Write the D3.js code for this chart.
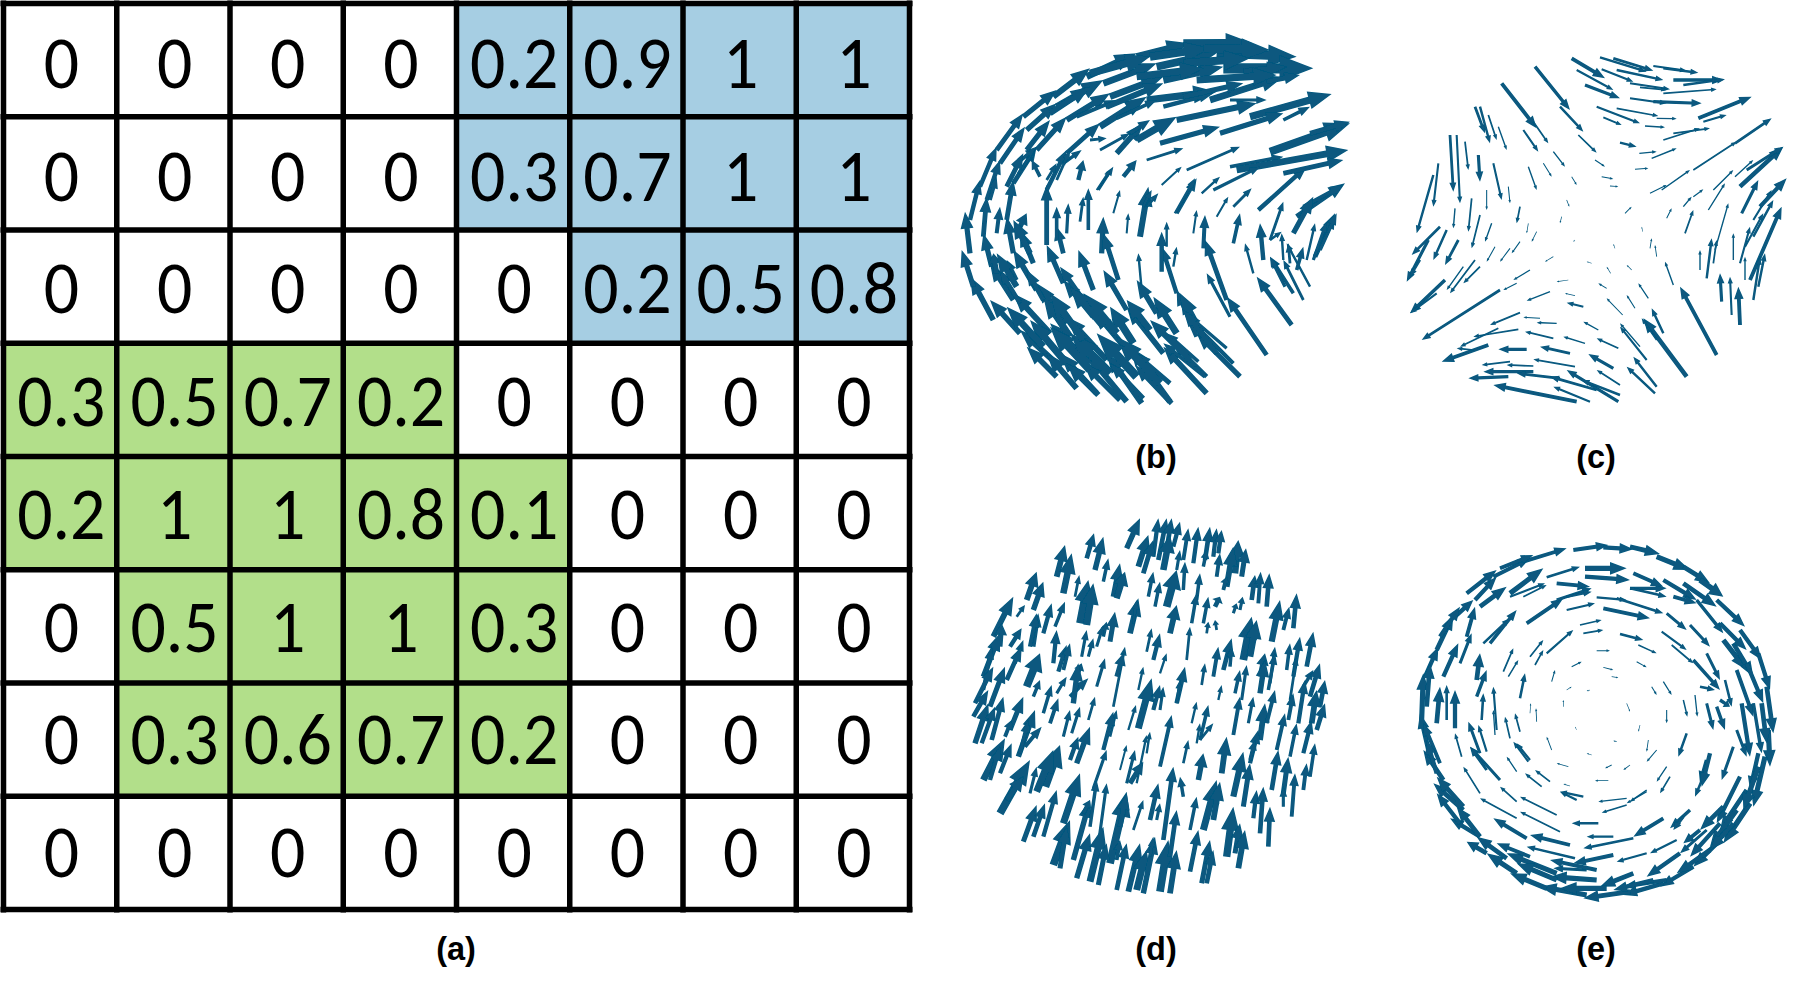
<!DOCTYPE html>
<html><head><meta charset="utf-8">
<script src="https://cdn.jsdelivr.net/npm/d3@7"></script>
<style>html,body{margin:0;padding:0;background:#fff}svg{display:block}</style>
</head><body><svg id="c" width="1812" height="983"></svg>
<script>
const gridValues=[
[0,0,0,0,0.2,0.9,1,1],
[0,0,0,0,0.3,0.7,1,1],
[0,0,0,0,0,0.2,0.5,0.8],
[0.3,0.5,0.7,0.2,0,0,0,0],
[0.2,1,1,0.8,0.1,0,0,0],
[0,0.5,1,1,0.3,0,0,0],
[0,0.3,0.6,0.7,0.2,0,0,0],
[0,0,0,0,0,0,0,0]];
const gridRegion=[
[0,0,0,0,1,1,1,1],
[0,0,0,0,1,1,1,1],
[0,0,0,0,0,1,1,1],
[2,2,2,2,0,0,0,0],
[2,2,2,2,2,0,0,0],
[0,2,2,2,2,0,0,0],
[0,2,2,2,2,0,0,0],
[0,0,0,0,0,0,0,0]];
const regionColors=["#ffffff","#a6cee3","#b2df8a"];
const panelLabels=["(a)","(b)","(c)","(d)","(e)"];

// arrows: tail x, tail y, tip x, tip y, head width (field units)
const fieldB=[
[440,1180,330,1060,30],[330,1100,210,990,30],[210,1000,120,900,28],[130,960,60,830,28],[70,860,35,750,26],[60,760,45,635,26],[60,660,90,540,22],[90,560,140,440,22],[140,450,220,340,24],[220,350,320,270,26],[310,290,420,205,30],[410,230,560,160,34],[560,170,720,130,36],[700,130,905,128,40],
[530,1205,410,1060,30],[420,1090,300,970,30],[300,1000,190,880,30],[190,900,120,790,28],[125,800,100,700,26],[100,710,110,590,24],[110,600,150,480,22],[150,490,225,380,24],[230,390,320,310,26],[320,320,460,240,34],[460,250,620,190,34],[620,200,800,160,38],[800,160,1040,170,44],
[575,1210,470,1060,30],[470,1080,350,950,30],[350,970,260,850,30],[260,870,190,750,28],[190,760,170,650,26],[170,660,190,540,24],[190,550,260,440,24],[260,450,350,350,26],[350,360,480,280,30],[480,290,640,230,34],[640,240,820,200,38],[820,205,1090,205,52],
[660,1205,540,1040,30],[540,1060,430,930,30],[430,950,340,840,28],[340,850,290,735,26],[290,735,290,555,24],[290,570,350,450,22],[350,460,450,370,24],[450,380,590,290,34],[590,300,800,275,36],[780,300,1000,230,34],
[770,1180,640,1040,28],[640,1060,530,920,28],[530,930,460,810,26],[455,760,460,650,26],[415,690,415,565,18],[390,665,400,590,14],[445,570,490,500,14],[500,460,580,370,28],[560,420,680,350,36],[680,360,920,310,30],[900,350,1145,282,36],
[870,1130,740,1000,26],[740,1010,680,870,24],[680,880,635,740,22],[635,815,635,695,22],[650,740,650,665,12],[570,710,595,560,30],[590,620,625,580,14],[630,430,810,380,26],[810,400,1000,340,26],[960,455,1200,370,40],[1080,400,1200,365,24],
[950,1065,830,890,24],[830,900,765,720,24],[760,745,765,645,20],[730,700,740,630,10],[680,640,740,535,20],[590,480,700,445,14],[635,555,695,500,10],[710,510,870,440,14],[840,500,1000,470,18],[860,510,1195,450,34],
[1025,975,920,830,24],[910,820,885,730,12],[850,730,870,640,18],[800,650,835,590,10],[755,580,810,530,12],[790,570,930,500,16],[850,620,905,565,14],[925,630,1070,500,22],[1000,520,1180,480,24],
[1080,860,1010,730,12],[1060,900,1000,780,14],[1030,880,960,770,18],[1005,860,960,770,16],[960,720,995,695,12],[1000,780,995,700,12],[960,720,1000,605,14],[940,780,930,670,22],[1095,770,1155,640,24],[1110,750,1160,640,18],[1090,780,1130,665,16],[1040,650,1185,550,26],[1060,620,1180,555,20],[1030,700,1090,590,26],[1070,780,1095,670,12],[1020,790,1015,730,14],[1040,810,1060,740,18],
[665,1210,555,1095,26],[660,1150,555,1060,24],[770,1130,670,1030,22],[850,1090,730,970,20],[830,1045,720,950,16],[745,1085,650,1000,18],[765,1130,640,1030,20],[580,1195,480,1090,24],[510,1200,400,1090,28],[445,1185,350,1090,30],[380,1165,290,1060,30],[320,1130,230,1040,28],[550,1030,480,920,38],[500,1000,400,880,40],[600,990,530,900,34],[680,1000,610,890,34],[760,1010,690,880,32],[840,950,770,820,16],[400,900,330,800,24],[360,1010,280,890,34],[280,900,230,810,24],[210,910,150,810,22],[250,790,210,690,26],[340,760,320,680,24],[430,870,385,750,26],[505,840,460,700,24],[575,870,565,760,12],[670,800,680,740,12],[320,720,320,620,18],[350,700,355,610,16],[290,540,320,490,14],[340,490,395,450,16],[385,540,400,480,22],[320,540,360,450,14],[270,530,245,480,18],[420,420,470,415,14],[205,520,255,450,14],[190,500,260,440,18],[440,570,480,510,10],[520,530,560,480,22],[490,640,510,570,10],[675,640,735,535,14],[530,700,535,640,10],[580,620,605,570,14],[540,400,600,360,20],[450,450,540,400,14],[380,350,500,300,20],[500,355,620,300,18],[640,320,790,280,22],[700,290,880,250,26],[880,215,1010,200,30],[950,245,1050,225,24],[840,300,950,300,16],[1000,360,1080,320,18],
[120,600,140,530,18],[200,700,230,640,26],[140,700,150,620,20],[140,820,130,760,26],[200,840,170,780,20],
[630,1150,500,1010,40],[560,1130,440,1000,44],[480,1120,360,1000,44],[420,1110,300,980,40],[350,1090,240,960,36],[280,1040,170,920,34],[400,1020,300,880,36],[460,980,360,860,34],[200,860,140,760,30],[240,760,190,660,30],[170,560,220,460,24],[230,450,300,360,26],[300,340,420,260,30],[420,220,600,170,38],[600,170,780,145,40],[760,145,960,150,44],[700,190,900,175,40],[560,230,760,205,36],[740,240,980,225,36],[470,320,640,250,30],[720,1080,600,960,30],[800,1060,700,930,26],[620,940,560,840,28]];

const fieldC=[
[600,172,740,215,14],[640,175,760,212,16],[515,175,615,235,22],[530,210,640,270,12],[555,255,660,295,18],[605,208,700,245,12],[650,210,790,240,14],[760,198,860,212,12],[790,205,895,218,14],[690,250,810,268,12],[720,262,800,270,10],[820,240,970,240,20],[850,255,975,238,14],[790,280,950,268,10],[690,295,800,310,12],[760,305,905,310,18],[590,320,720,370,12],[650,325,775,348,10],[735,378,795,382,8],[770,355,830,356,8],[610,352,665,375,10],[790,420,900,385,10],[820,400,930,385,10],[895,355,1055,290,22],[910,365,980,345,12],[660,428,710,440,14],[718,460,770,455,8],[755,475,830,445,8],[705,508,745,505,6],[605,530,640,537,6],[630,558,655,560,5],[585,480,615,500,6],[535,405,590,458,10],[480,320,550,395,14],[405,200,510,330,20],
[750,580,800,555,6],[785,570,870,510,8],[880,510,1010,425,10],[1005,430,1115,355,16],[675,640,695,620,5],
[855,700,880,630,10],[800,655,815,625,6],[850,620,875,590,8],[880,590,910,568,7],[925,630,975,550,8],[940,570,1000,510,8],[1020,560,1150,440,26],[1005,530,1060,480,8],[1040,510,1150,440,16],[1025,640,1075,540,18],[1060,660,1115,570,12],[1080,620,1160,535,24],[1060,710,1120,600,14],[1035,740,1090,640,12],[1050,840,1145,620,22],[1020,790,1050,680,12],[1000,780,1000,700,8],[945,750,985,610,8],[920,835,935,715,14],[900,810,900,750,8],[940,790,950,720,10],[965,905,960,820,18],[995,945,990,830,12],[1020,975,1015,860,22],[1060,900,1080,770,14],[1075,860,1095,760,14],[1035,840,1035,770,8],
[820,855,795,785,8],[770,770,765,735,5],[750,745,755,715,5],[728,695,725,680,3],[645,745,640,732,3],
[950,1065,840,860,22],[860,1130,730,955,26],[790,1000,755,925,14],[770,1020,725,955,10],[745,895,715,850,7],[705,925,680,885,6],[695,810,680,795,4],[668,945,620,895,6],[620,865,595,850,6],[632,820,620,800,4],[575,790,560,785,3],[525,720,520,725,3],
[225,320,255,400,16],[240,320,270,430,14],[265,345,290,420,10],[295,380,320,450,8],[305,250,410,385,22],[370,390,415,455,12],[400,365,445,430,10],[460,455,495,500,8],[430,490,455,530,6],[515,530,530,555,5],[500,600,508,620,4],[385,500,410,570,8],[325,560,330,610,6],[280,490,305,600,12],[260,570,260,630,6],[235,465,240,545,18],[195,425,205,510,10],[170,405,180,610,12],[150,405,160,575,16],[115,490,100,620,12],[100,525,50,700,14],[360,620,350,670,10],[215,595,205,695,10],[165,625,160,685,8],[275,670,255,725,8],[240,645,215,745,10],[140,690,100,780,14],[175,720,135,795,16],[120,680,35,765,16],[85,720,20,845,18],[60,780,30,830,14],[485,650,480,670,4],[385,670,380,700,4],[410,695,395,725,5],[285,740,260,785,6],[360,725,335,760,6],[330,745,300,785,6],[225,780,150,880,10],[190,800,140,870,8],[240,800,190,850,10],[390,810,340,840,7],[460,770,435,785,4],[300,870,65,1020,16],[350,850,310,870,6],[135,840,30,940,20],[110,880,30,940,12],
[450,875,380,902,8],[505,840,470,845,4],[525,887,495,880,4],[550,920,500,908,12],[360,938,270,975,10],[420,955,370,952,6],[470,970,410,968,8],[355,988,220,1010,10],[295,985,180,1040,10],[460,1015,375,995,10],[555,1030,490,1010,8],[265,1035,125,1085,22],[220,1050,170,1045,10],[380,1048,295,1048,18],[510,1060,420,1040,16],[330,1085,245,1095,10],[400,1098,320,1095,10],[525,1100,400,1078,10],[640,1105,565,1062,18],[595,990,550,965,8],[655,1045,590,1015,10],[400,1115,250,1115,18],[325,1130,205,1135,18],[480,1135,350,1120,16],[590,1170,450,1130,16],[530,1205,280,1155,22],[570,1205,460,1160,12],[655,1205,500,1110,18],[660,1185,545,1140,14],[660,1155,590,1110,10],[765,1180,680,1100,14],[770,1160,700,1070,14],[740,1080,660,980,12],[720,1040,660,970,8]];

const fieldD=[
[530,175,570,85,28],[610,200,625,85,22],[625,210,650,85,24],[650,180,665,85,24],[670,170,690,95,22],[700,210,715,115,20],[730,220,745,110,22],[765,210,780,110,24],[790,200,800,115,22],[805,190,815,120,22],
[410,205,432,130,24],[435,240,460,140,28],[320,260,345,165,30],[340,310,365,190,34],[565,230,595,135,30],[640,240,660,135,34],[855,250,865,150,34],[875,260,888,175,26],[580,250,610,150,25],[680,240,690,180,16],[760,230,770,180,18],[800,260,810,190,20],
[230,330,260,245,30],[250,360,280,275,28],[490,320,510,220,28],[500,325,525,245,32],[460,275,475,205,18],[595,320,610,245,18],[615,350,630,275,18],[650,350,680,240,40],[700,300,705,215,18],[740,330,750,250,18],[830,290,850,170,30],[905,330,915,255,24],[925,340,932,245,20],[950,350,958,250,24],
[390,400,415,270,40],[410,405,430,280,36],[375,320,388,255,14],[540,430,565,325,30],[130,440,190,320,30],[280,430,305,340,22],[660,430,680,345,30],[725,400,740,310,18],[760,400,775,320,18],[795,350,810,320,24],[820,300,830,260,20],[850,370,860,340,16],[870,360,878,320,16],[965,455,990,330,32],[1000,420,1018,350,20],[1030,415,1040,310,24],[315,410,345,335,18],[200,380,225,345,14],[250,470,265,370,22],
[880,510,905,380,40],[900,500,920,390,34],[710,510,720,410,14],[770,430,775,395,14],[800,420,795,390,14],[480,455,495,365,26],[460,440,470,395,18],[550,400,560,330,14],
[180,470,215,415,22],[150,470,155,400,26],[100,560,150,430,28],[195,520,220,450,18],[240,470,260,370,22],[310,520,320,420,22],[325,545,350,465,22],[340,540,360,460,20],[395,500,410,420,16],[415,500,430,445,16],[440,470,460,405,16],[590,485,605,415,14],[610,510,630,430,22],[630,550,650,490,12],[790,560,805,470,20],[820,540,845,445,24],[840,530,845,470,18],[930,560,945,490,26],[960,580,975,470,16],[1010,540,1020,460,18],[1030,560,1050,440,22],[1070,530,1090,425,24],
[230,590,270,490,40],[170,570,215,470,24],[120,650,165,530,26],[100,600,125,470,20],[380,560,395,520,22],[360,620,415,565,20],[320,610,350,560,16],[490,650,525,470,14],[500,560,520,490,24],[440,590,465,505,16],[565,600,580,530,12],[630,660,640,590,16],[680,640,705,530,24],[755,585,765,520,14],[805,630,815,585,12],[855,610,870,540,18],[875,630,890,525,16],[930,610,945,510,28],[955,600,975,490,18],[1020,630,1040,500,14],[1060,590,1090,540,18],[1080,620,1110,520,24],[1110,650,1125,570,24],
[75,640,130,530,24],[70,680,115,600,24],[180,720,220,620,26],[250,620,270,570,18],[280,670,305,585,18],[300,700,325,625,20],[370,640,385,520,28],[415,690,435,620,14],[340,740,360,660,16],[365,730,390,650,16],[535,720,558,645,12],[565,715,605,565,36],[610,660,630,585,22],[680,640,690,570,14],[725,700,740,635,12],[750,750,775,645,18],[850,735,870,620,20],[895,700,910,620,16],[930,750,945,640,30],[950,700,975,600,20],[1015,690,1030,610,20],[1045,700,1065,570,22],[1085,700,1100,600,30],[1100,720,1125,640,24],
[75,760,115,640,28],[95,760,135,650,22],[125,750,160,620,24],[165,740,185,690,20],[205,800,255,660,28],[210,790,235,690,20],[225,770,275,710,20],[480,740,500,660,14],[460,780,490,665,22],[590,790,600,725,12],[630,830,665,675,20],[740,760,750,700,12],[750,750,790,700,14],[900,820,925,720,22],[980,780,1005,670,20],[1020,800,1040,700,18],[1060,790,1085,690,22],
[100,870,165,745,36],[120,870,150,770,22],[150,850,185,760,22],[285,890,330,765,44],[260,905,310,780,36],[240,910,260,830,16],[150,970,240,810,40],[170,930,220,860,30],[360,810,385,740,22],[380,820,420,710,28],[430,895,470,780,16],[510,840,530,765,10],[530,880,555,780,16],[560,880,590,735,12],[540,880,580,815,26],[700,820,715,750,14],[745,870,760,790,28],[815,850,830,740,30],[850,920,880,785,32],[880,950,900,820,26],[900,810,915,750,18],[965,900,985,780,24],[1000,910,1015,800,26],[1060,900,1070,820,20],[1080,860,1095,760,18],
[220,1055,260,945,26],[250,1040,285,940,24],[280,1040,320,900,22],[310,1125,360,990,40],[330,1135,350,1010,26],[340,1000,390,850,36],[370,1110,420,930,28],[400,970,420,930,20],[420,1010,440,870,18],[440,1100,470,880,16],[480,1120,530,905,40],[510,1010,530,910,26],[550,1020,580,930,14],[600,990,625,880,24],[620,990,630,940,16],[640,1050,670,830,24],[700,920,690,860,18],[720,1020,740,920,18],[760,1020,800,870,36],[790,990,810,875,30],[830,1100,850,950,38],[855,1090,870,1000,26],[910,985,920,900,22],[930,1030,940,890,24],[955,1070,960,950,24],[1000,950,1000,890,16],[1025,980,1035,850,20],
[380,1165,420,1030,28],[420,1175,460,1010,36],[445,1185,470,1060,26],[500,1200,530,1060,24],[535,1205,570,1060,30],[560,1200,590,1080,36],[580,1210,615,1040,28],[630,1205,655,1050,40],[660,1210,680,1080,30],[720,1145,745,1020,24],[755,1180,780,1050,26],[770,1180,790,1080,24],[865,1135,885,1020,30],[500,1110,510,1050,20],[600,1100,610,1040,16],[660,1100,680,960,24]];

const fieldE=[
[520,180,625,165,18],[610,172,700,178,20],[690,170,780,192,22],[770,200,870,240,24],[850,230,930,280,22],[900,270,970,320,26],[950,330,1035,410,20],[1020,420,1085,510,20],[1075,490,1110,600,20],[1100,590,1120,730,22],[1105,720,1110,830,24],[1095,800,1060,950,24],[1050,940,970,1060,26],[960,1050,880,1130,22],[880,1130,780,1190,20],[790,1180,670,1215,20],[690,1205,550,1225,22],[560,1215,420,1190,24],[440,1195,330,1150,24],[350,1150,260,1090,24],[260,1090,200,1055,22],[240,1040,150,985,20],[190,960,100,880,22],[130,870,70,780,22],[90,800,60,670,22],[65,690,70,550,24],[75,560,115,470,20],[110,480,160,375,22],[165,380,220,330,20],[225,330,290,260,20],[280,260,390,205,18],[370,215,500,175,18],
[555,235,680,235,24],[555,260,690,270,20],[690,295,800,295,16],[700,250,790,290,18],[790,270,890,330,20],[820,320,890,340,18],[890,330,970,430,16],[970,450,1040,540,24],[1010,540,1060,680,18],[1060,640,1085,790,16],[1075,790,1050,900,20],[1040,900,960,1020,22],[960,1000,870,1100,20],[900,1020,850,1060,18],[840,1090,740,1160,20],[800,1170,670,1190,18],[700,1150,600,1190,22],[590,1170,450,1160,24],[560,1140,460,1135,14],[470,1150,320,1090,24],[390,1100,290,1060,18],[240,1040,170,950,22],[190,950,110,860,22],[120,820,70,700,18],[110,700,120,590,22],[130,560,175,460,20],[200,440,225,350,18],[240,350,320,290,22],[330,310,430,235,24],[440,262,540,230,12],[470,280,570,290,18],
[180,520,215,430,14],[230,570,240,490,22],[230,620,260,540,16],[245,690,250,610,12],[165,715,165,600,20],[140,690,140,585,12],[250,460,330,385,12],[270,460,350,360,16],[330,320,435,280,10],[370,320,440,285,8],[380,400,490,325,18],[470,330,575,295,14],[500,320,575,305,12],[500,360,585,340,10],[590,322,680,330,10],[610,355,750,385,18],[650,325,790,370,12],[690,295,800,320,12],[800,370,860,420,14],[785,425,860,480,10],[870,405,930,470,14],[815,465,880,520,8],[880,510,960,600,16],[920,490,960,570,14],[900,590,945,600,12],[960,630,990,650,16],[975,570,995,650,12],[1025,640,1050,800,20],[1010,720,1040,800,14],[950,650,975,720,16],[920,640,940,720,14],[1000,770,965,870,14],[920,810,900,880,18],[910,860,885,920,12],[930,790,905,890,20],[1020,860,950,1000,20],[970,950,900,1020,22],[870,960,810,1015,16],[850,980,820,1020,14],[790,985,700,1040,18],[830,1050,750,1090,10],[920,1020,840,1090,14],[740,1090,650,1115,10],[640,1095,520,1120,18],[700,1045,550,1075,12],[640,1040,560,1040,10],[595,1000,515,1000,12],[525,1105,380,1070,12],[510,1065,390,1035,18],[380,1045,280,985,18],[350,985,240,925,8],[470,975,360,920,8],[480,1025,360,965,8],[350,935,300,890,8],[240,910,190,830,8],[300,870,210,770,14],[260,840,210,770,14],[240,790,205,695,14],[290,720,280,590,10],[260,785,235,705,10],[185,800,165,730,8],
[530,930,480,905,10],[550,920,480,905,10],[385,815,340,755,10],[390,810,350,760,10],[450,875,405,840,8],[350,845,320,800,6],[425,890,375,850,8],[360,725,345,670,8],[330,745,315,680,8],[285,735,280,660,6],[360,625,375,550,12],[325,560,355,510,7],[310,545,340,475,8],[405,525,430,480,8],[390,500,430,450,8],[440,490,520,420,10],[455,575,465,540,5],[515,530,545,515,5],[540,405,605,390,8],[550,430,610,420,8],[660,432,730,450,12],[590,482,630,482,5],[610,532,640,540,4],[635,560,655,563,3],[715,465,770,490,7],[710,515,740,532,5],[755,590,770,615,5],[790,575,815,615,6],[800,660,800,700,5],[850,630,862,680,7],[885,615,892,680,6],[860,730,835,800,12],[720,705,715,725,3],[770,780,740,815,5],[745,750,740,785,4],[800,830,770,875,6],[810,860,780,910,8],[740,900,690,935,7],[690,825,670,840,4],[635,825,615,835,4],[625,872,585,872,4],[680,925,595,935,6],[740,905,680,940,6],[680,945,605,968,7],[510,888,490,882,3],[505,830,470,820,4],[575,795,560,790,3],[455,780,440,740,4],[410,695,408,655,4],[390,670,392,640,3],[490,650,490,630,3],[500,600,515,590,3],[570,600,560,603,3],[650,755,640,752,3],[680,640,690,665,3],[530,720,525,710,2],
[1000,460,1060,560,22],[1040,520,1090,640,20],[1085,640,1100,760,22],[1075,830,1030,960,24],[1010,960,930,1070,24],[930,1080,830,1150,22],[760,1170,640,1200,20],[620,1195,480,1195,24],[470,1170,350,1120,24],[320,1105,230,1040,22],[180,1000,110,910,20],[110,850,80,750,20],[80,650,90,520,22],[120,440,180,350,20],[200,310,290,240,20],[300,235,400,195,18],[850,280,950,350,22],[960,400,1040,480,20],[1000,1000,930,1080,22],[590,1140,450,1110,18]];

const svg=d3.select("#c");
const color="#07587f";

// ---- grid ----
const gx=d3.scaleBand().domain(d3.range(8)).range([3.5,909.5]);
const gy=d3.scaleBand().domain(d3.range(8)).range([3.5,909.5]);
const tx=d3.scaleLinear().domain([0,7]).range([61.3,854]);
const ty=d3.scaleLinear().domain([0,7]).range([88,877]);
const g=svg.append("g");
const cells=gridValues.flatMap((row,r)=>row.map((v,c)=>({v,r,c,k:gridRegion[r][c]})));
g.selectAll("rect.cell").data(cells).join("rect").attr("class","cell")
  .attr("x",d=>gx(d.c)).attr("y",d=>gy(d.r)).attr("width",gx.bandwidth()).attr("height",gy.bandwidth())
  .attr("fill",d=>regionColors[d.k]);
d3.range(9).forEach(i=>{
  const p=i<8?gx(i):gx(7)+gx.bandwidth();
  g.append("line").attr("x1",p).attr("x2",p).attr("y1",0.5).attr("y2",912.5).attr("stroke","#000").attr("stroke-width",5.5);
  g.append("line").attr("y1",p).attr("y2",p).attr("x1",0.5).attr("x2",912.5).attr("stroke","#000").attr("stroke-width",5.5);
});
g.selectAll("text").data(cells).join("text")
  .attr("transform",d=>`translate(${tx(d.c)},${ty(d.r)}) scale(0.93,1)`)
  .attr("text-anchor","middle").attr("font-family","Carlito, Lato, 'Open Sans', sans-serif").attr("font-size",75).attr("fill","#000")
  .text(d=>String(d.v));

// ---- arrows ----
const defs=svg.append("defs");
defs.append("filter").attr("id","soft").append("feGaussianBlur").attr("stdDeviation",0.55);

function arrowPath(x0,y0,x1,y1,w){
  const len=Math.hypot(x1-x0,y1-y0)||1, ux=(x1-x0)/len, uy=(y1-y0)/len, nx=-uy, ny=ux;
  const hl=Math.min(len*0.5,w*1.3), s=w*0.2, h=w*0.5, bx=x1-ux*hl, by=y1-uy*hl;
  const pts=[[x0+nx*s,y0+ny*s],[bx+nx*s,by+ny*s],[bx+nx*h,by+ny*h],[x1,y1],[bx-nx*h,by-ny*h],[bx-nx*s,by-ny*s],[x0-nx*s,y0-ny*s]];
  return d3.line()(pts)+"Z";
}
function drawField(data,dx,dy,wide,tall,ox,oy,widen){
  const fx=d3.scaleLinear().domain(dx).range([ox,ox+wide]);
  const fy=d3.scaleLinear().domain(dy).range([oy,oy+tall]);
  const k=wide/(dx[1]-dx[0])*widen;
  svg.append("g").attr("filter","url(#soft)").selectAll("path").data(data).join("path")
    .attr("fill",color)
    .attr("d",d=>arrowPath(fx(d[0]),fy(d[1]),fx(d[2]),fy(d[3]),d[4]*k));
}
drawField(fieldB,[0,1380],[0,1470],460,490,950,0,1.5);
drawField(fieldC,[0,1236],[0,1470],412,490,1400,0,1.3);
drawField(fieldD,[0,1380],[0,1470],460,490,950,490,1.45);
drawField(fieldE,[0,1236],[0,1470],412,490,1400,490,1.6);

// ---- labels ----
const labelX=[456,1156,1596,1156,1596], labelY=[950,458,458,950,950];
svg.append("g").selectAll("text").data(panelLabels).join("text")
  .attr("x",(d,i)=>labelX[i]).attr("y",(d,i)=>labelY[i]+10)
  .attr("text-anchor","middle").attr("font-family","'Liberation Sans',Arial,sans-serif")
  .attr("font-weight","bold").attr("font-size",32.5).attr("fill","#000").text(d=>d);
</script></body></html>
